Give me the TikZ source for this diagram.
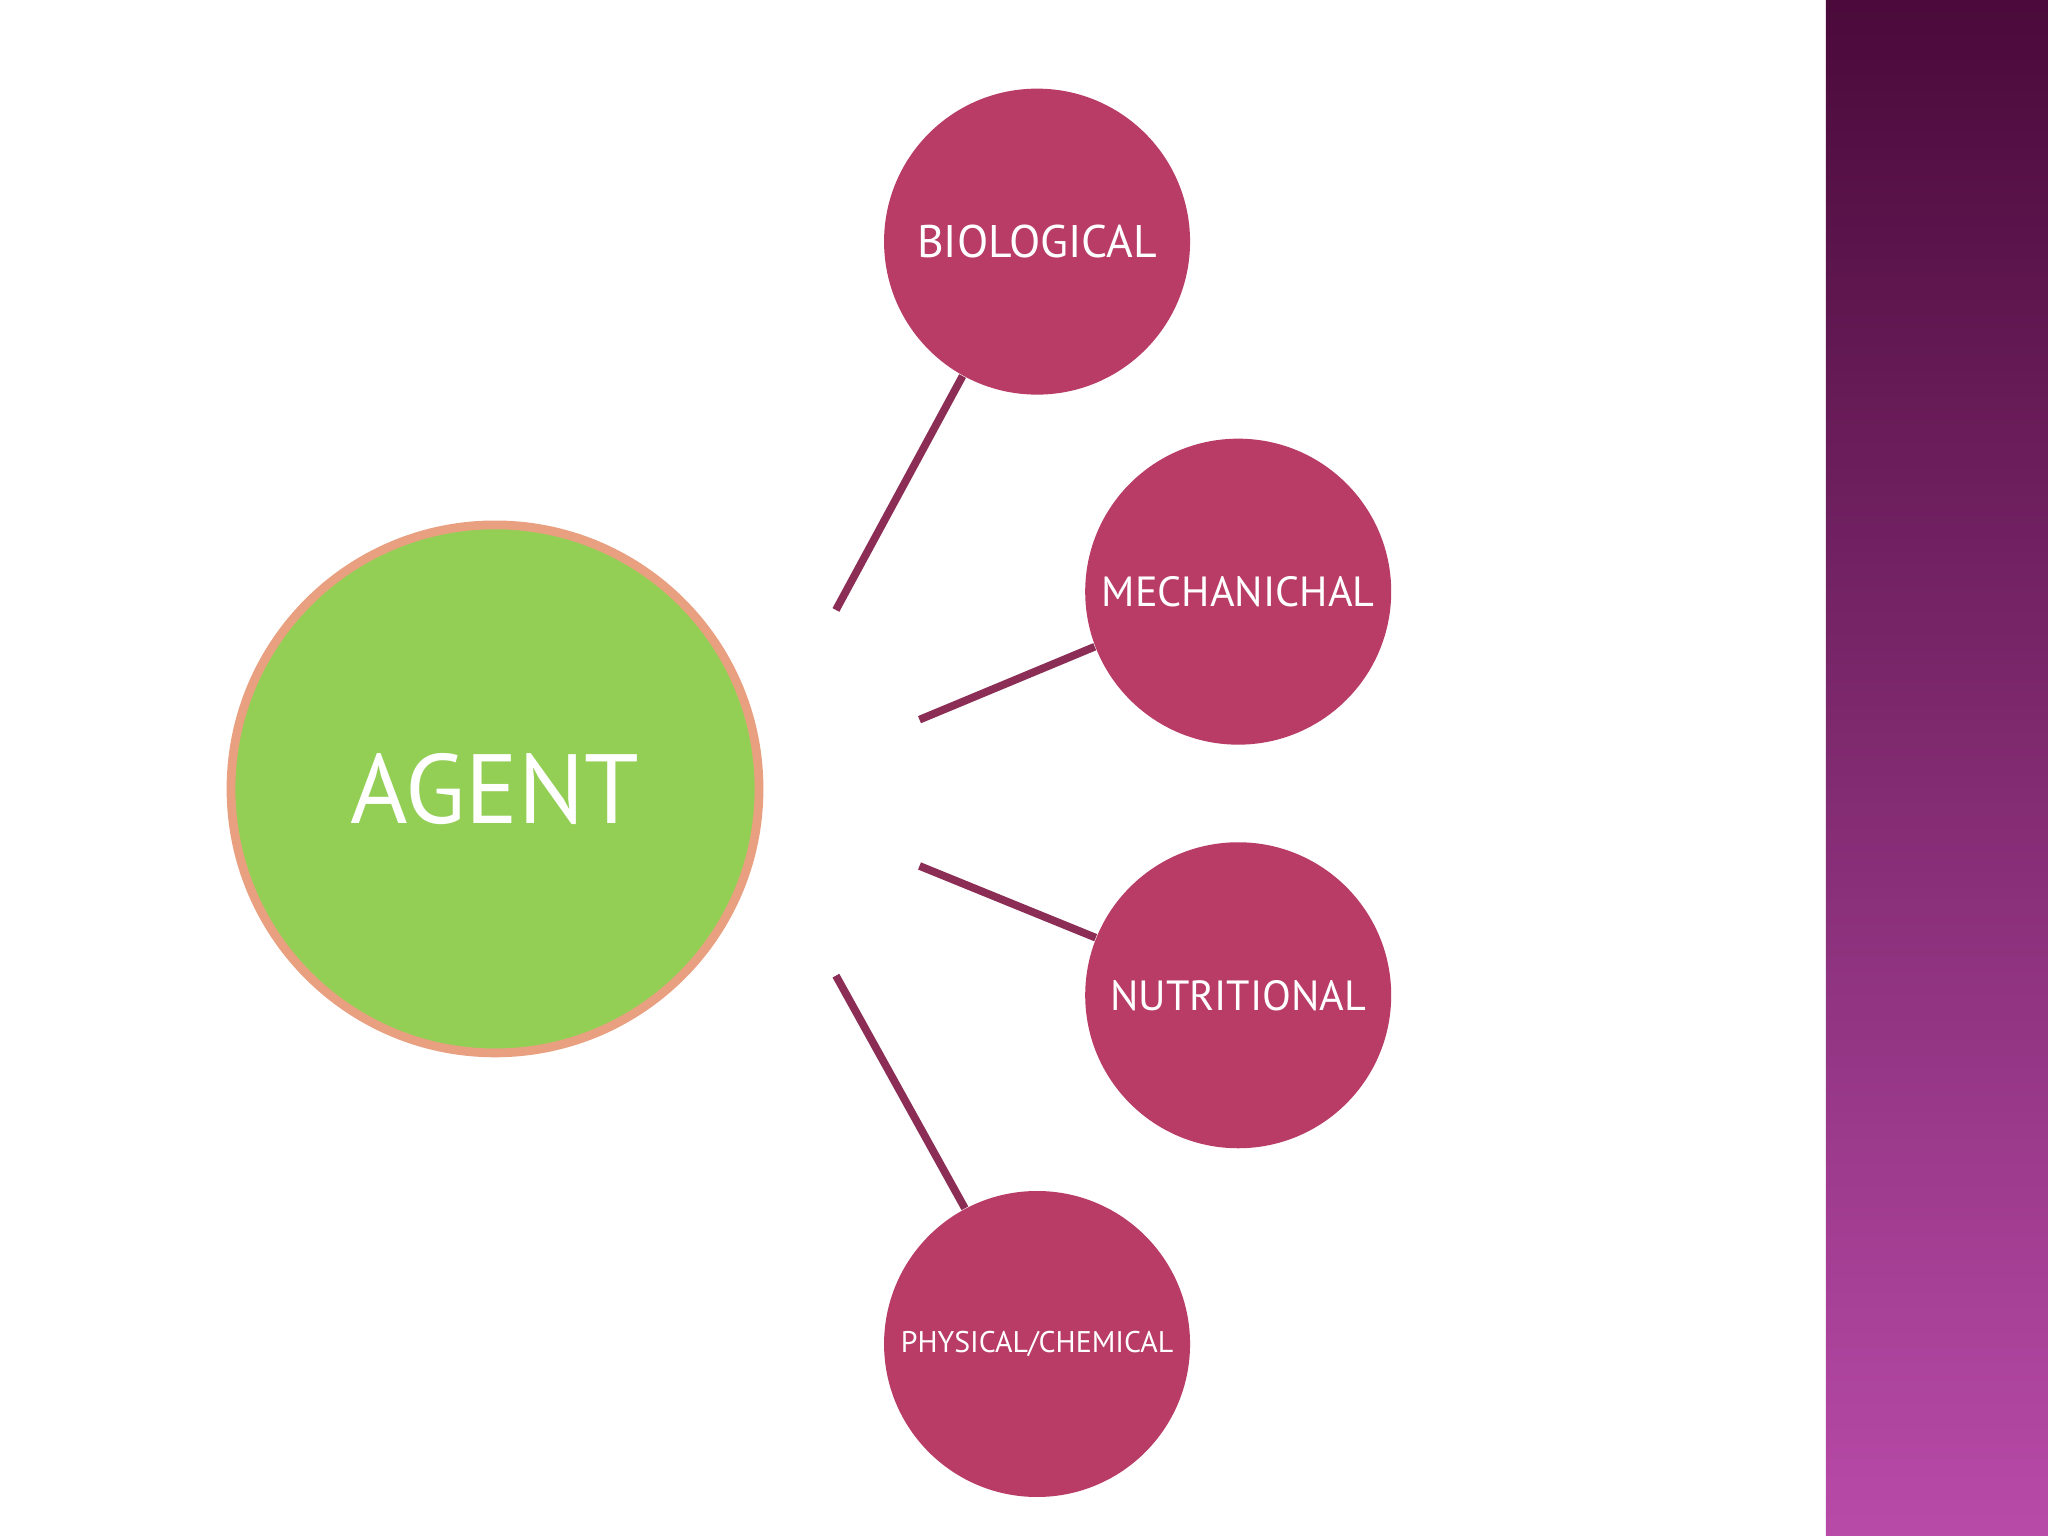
\documentclass[tikz,border=0pt]{standalone}
\usepackage{fontspec}
\setmainfont{PT Sans}
\definecolor{petal}{HTML}{B93C66}
\definecolor{stem}{HTML}{8B2D55}
\definecolor{leaf}{HTML}{94CF55}
\definecolor{rim}{HTML}{E8A080}
\definecolor{bartop}{HTML}{4A0A3A}
\definecolor{barbot}{HTML}{B84AA8}
\begin{document}
\begin{tikzpicture}[x=0.01306cm,y=-0.01306cm,
  petal/.style={circle,fill=petal,text=white,minimum size=3.06cm,inner sep=0pt},
  stem/.style={draw=stem,line width=2.2pt}]
\useasboundingbox (0,0) rectangle (1568,1176);
\fill[white] (0,0) rectangle (1568,1176);
\shade[top color=bartop,bottom color=barbot] (1398,0) rectangle (1568,1176);
\node (agent) at (379,604) [circle,fill=leaf,draw=rim,line width=2.5pt,minimum size=5.28cm,text=white,font=\fontsize{28}{32}\selectfont] {AGENT};
\node (bio)  at (794,185)  [petal,font=\fontsize{13}{15}\selectfont] {BIOLOGICAL};
\node (mech) at (948,453)  [petal,font=\fontsize{12}{14}\selectfont] {MECHANICHAL};
\node (nut)  at (948,762)  [petal,font=\fontsize{12}{14}\selectfont] {NUTRITIONAL};
\node (phys) at (794,1029) [petal,font=\fontsize{8.5}{10}\selectfont] {PHYSICAL/CHEMICAL};
\coordinate (a1) at (640,467);
\coordinate (a2) at (704,551);
\coordinate (a3) at (704,663);
\coordinate (a4) at (640,747);
\draw[stem] (a1) -- (bio.241);
\draw[stem] (a2) -- (mech.201);
\draw[stem] (a3) -- (nut.158);
\draw[stem] (a4) -- (phys.118);
\end{tikzpicture}
\end{document}
